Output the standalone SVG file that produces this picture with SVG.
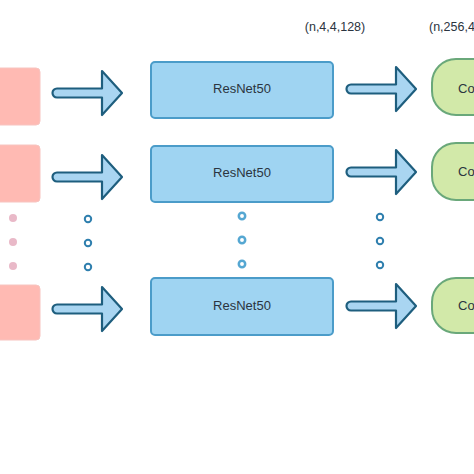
<svg xmlns="http://www.w3.org/2000/svg" xmlns:xlink="http://www.w3.org/1999/xlink" width="474" height="474" viewBox="0 0 474 474">
<style>
.in{fill:#ffbab3;stroke:#f7c4c0;stroke-width:1}
.res{fill:#9fd4f2;stroke:#4b9cc9;stroke-width:2}
.conv{fill:#d2e9a9;stroke:#6aa87a;stroke-width:2}
.arr{fill:#a9d5f1;stroke:#1e5e7e;stroke-width:2.2;stroke-linejoin:round}
.t{font-family:"Liberation Sans",Arial,sans-serif;fill:#2b3440}
.pd{fill:#e9b9c8}
.bd{fill:none;stroke:#2f7fae;stroke-width:2}
.bd2{fill:none;stroke:#55a7d2;stroke-width:2.5}
</style>
<defs>
<path id="arrow" d="M4,-4.5 H49 V-22 L69,0 L49,22 V4.5 H4 A4.5,4.5 0 0 1 4,-4.5 Z"/>
</defs>
<rect width="474" height="474" fill="#ffffff"/>
<text class="t" x="335" y="31" font-size="12.5" text-anchor="middle">(n,4,4,128)</text>
<text class="t" x="429" y="31" font-size="12.5">(n,256,4</text>
<g id="input1"><rect class="in" x="-6" y="68" width="46" height="57" rx="4"/></g>
<g id="input2"><rect class="in" x="-6" y="145" width="46" height="57" rx="4"/></g>
<g id="input3"><rect class="in" x="-6" y="285" width="46" height="55" rx="4"/></g>
<g id="resnet1"><rect class="res" x="151" y="62" width="182" height="56" rx="4"/><text class="t" x="242" y="93" font-size="13" text-anchor="middle">ResNet50</text></g>
<g id="resnet2"><rect class="res" x="151" y="146" width="182" height="56" rx="4"/><text class="t" x="242" y="177" font-size="13" text-anchor="middle">ResNet50</text></g>
<g id="resnet3"><rect class="res" x="151" y="278" width="182" height="57" rx="4"/><text class="t" x="242" y="310" font-size="13" text-anchor="middle">ResNet50</text></g>
<g id="conv1"><rect class="conv" x="432" y="59" width="80" height="56" rx="24"/><text class="t" x="458" y="93" font-size="13">Co</text></g>
<g id="conv2"><rect class="conv" x="432" y="143" width="80" height="57" rx="24"/><text class="t" x="458" y="176" font-size="13">Co</text></g>
<g id="conv3"><rect class="conv" x="432" y="278" width="80" height="55" rx="24"/><text class="t" x="458" y="310" font-size="13">Co</text></g>
<g id="connectors">
<use xlink:href="#arrow" class="arr" transform="translate(53,93)"/>
<use xlink:href="#arrow" class="arr" transform="translate(53,177)"/>
<use xlink:href="#arrow" class="arr" transform="translate(53,309)"/>
<use xlink:href="#arrow" class="arr" transform="translate(347,89)"/>
<use xlink:href="#arrow" class="arr" transform="translate(347,172)"/>
<use xlink:href="#arrow" class="arr" transform="translate(347,306)"/>
</g>
<g id="dots">
<circle class="pd" cx="13" cy="218" r="4"/>
<circle class="pd" cx="13" cy="242" r="4"/>
<circle class="pd" cx="13" cy="266" r="4"/>
<circle class="bd" cx="88" cy="219" r="3.2"/>
<circle class="bd" cx="88" cy="243" r="3.2"/>
<circle class="bd" cx="88" cy="267" r="3.2"/>
<circle class="bd2" cx="242" cy="216" r="3.2"/>
<circle class="bd2" cx="242" cy="240" r="3.2"/>
<circle class="bd2" cx="242" cy="264" r="3.2"/>
<circle class="bd" cx="380" cy="217" r="3.2"/>
<circle class="bd" cx="380" cy="241" r="3.2"/>
<circle class="bd" cx="380" cy="265" r="3.2"/>
</g>
</svg>
